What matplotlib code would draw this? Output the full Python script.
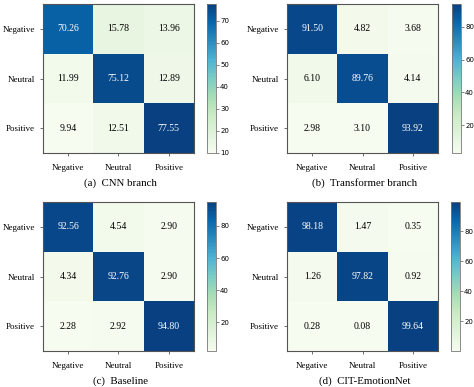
import matplotlib
matplotlib.use("Agg")
import matplotlib.pyplot as plt
import numpy as np

labels = ["Negative", "Neutral", "Positive"]
cnn = [[70.26, 15.78, 13.96], [11.99, 75.12, 12.89], [9.94, 12.51, 77.55]]
transformer = [[91.50, 4.82, 3.68], [6.10, 89.76, 4.14], [2.98, 3.10, 93.92]]
baseline = [[92.56, 4.54, 2.90], [4.34, 92.76, 2.90], [2.28, 2.92, 94.80]]
cit = [[98.18, 1.47, 0.35], [1.26, 97.82, 0.92], [0.28, 0.08, 99.64]]
captions = ["(a)  CNN branch", "(b)  Transformer branch", "(c)  Baseline", "(d)  CIT-EmotionNet"]
cbar_ticks = [[10, 20, 30, 40, 50, 60, 70], [20, 40, 60, 80], [20, 40, 60, 80], [20, 40, 60, 80]]

W, H = 474, 387
fig = plt.figure(figsize=(W / 100, H / 100), dpi=100)
serif = "Liberation Serif"

panels = [
    (cnn, 43, 4, 207),
    (transformer, 287, 4, 452),
    (baseline, 43, 202, 207),
    (cit, 287, 202, 451),
]
for k, (mat, x0, y0, cx) in enumerate(panels):
    m = np.array(mat)
    aw, ah = 151, 149
    ax = fig.add_axes([x0 / W, 1 - (y0 + ah) / H, aw / W, ah / H])
    im = ax.imshow(m, cmap="GnBu", aspect="auto", vmin=m.min(), vmax=m.max())
    thr = (m.min() + m.max()) / 2
    for i in range(3):
        for j in range(3):
            ax.text(j, i, f"{m[i, j]:.2f}", ha="center", va="center",
                    color="white" if m[i, j] > thr else "black",
                    fontsize=7, family=serif)
    ax.set_xticks(range(3))
    ax.set_yticks(range(3))
    ax.set_xticklabels(labels, fontsize=6.5, family=serif)
    ax.set_yticklabels(labels, fontsize=6.5, family=serif)
    ax.tick_params(length=2, width=0.6, color="#555555", pad=4)
    ax.tick_params(axis="x", pad=6)
    for s in ax.spines.values():
        s.set_color("#555555")
        s.set_linewidth(0.8)
    cax = fig.add_axes([cx / W, 1 - (y0 + ah) / H, 9 / W, ah / H])
    cb = fig.colorbar(im, cax=cax)
    cb.set_ticks(cbar_ticks[k])
    cb.ax.tick_params(labelsize=5, length=2, width=0.5, color="#555555", pad=1)
    cb.outline.set_edgecolor("#777777")
    cb.outline.set_linewidth(0.6)
    fig.text((x0 + aw / 2 + 2) / W, 1 - (y0 + ah + 30) / H, captions[k],
             ha="center", va="center", fontsize=7.8, family=serif)

fig.savefig("out.png", dpi=100)
